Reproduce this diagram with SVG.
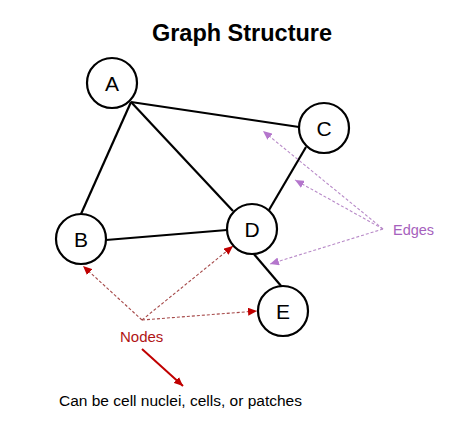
<svg xmlns="http://www.w3.org/2000/svg" width="474" height="431" viewBox="0 0 474 431">
<style>
.node circle{fill:#fff;stroke:#000;stroke-width:2.2}
.node text{font-family:"Liberation Sans",Arial,sans-serif;font-size:21px;fill:#000;text-anchor:middle}
.edge{stroke:#000;stroke-width:2.2;fill:none}
.pd{stroke:#b88ac8;stroke-width:1.1;stroke-dasharray:3 2;fill:none}
.rd{stroke:#a64a4a;stroke-width:1.1;stroke-dasharray:3 2;fill:none}
.lbl{font-family:"Liberation Sans",Arial,sans-serif}
</style>
<defs>
<marker id="ap" markerUnits="userSpaceOnUse" markerWidth="9" markerHeight="8" refX="9" refY="4" orient="auto"><path d="M0,0 L9,4 L0,8 z" fill="#b476cc"/></marker>
<marker id="ar" markerUnits="userSpaceOnUse" markerWidth="9" markerHeight="8" refX="9" refY="4" orient="auto"><path d="M0,0 L9,4 L0,8 z" fill="#c00000"/></marker>
</defs>
<rect width="474" height="431" fill="#fff"/>
<text class="lbl" x="242" y="41" font-size="23.5" font-weight="bold" text-anchor="middle">Graph Structure</text>
<g id="connectors">
<line class="edge" x1="131" y1="102" x2="81" y2="214"/>
<line class="edge" x1="131" y1="102" x2="233" y2="211"/>
<line class="edge" x1="131" y1="102" x2="299" y2="127"/>
<line class="edge" x1="306" y1="147" x2="269" y2="210"/>
<line class="edge" x1="106" y1="240" x2="227" y2="230"/>
<line class="edge" x1="253" y1="253" x2="282" y2="287"/>
<line class="pd" x1="383" y1="229" x2="263" y2="131" marker-end="url(#ap)"/>
<line class="pd" x1="383" y1="229" x2="295" y2="180" marker-end="url(#ap)"/>
<line class="pd" x1="383" y1="229" x2="270" y2="264" marker-end="url(#ap)"/>
<line class="rd" x1="142" y1="320" x2="83" y2="266" marker-end="url(#ar)"/>
<line class="rd" x1="142" y1="320" x2="233" y2="246" marker-end="url(#ar)"/>
<line class="rd" x1="142" y1="320" x2="257" y2="311" marker-end="url(#ar)"/>
<line x1="142" y1="349" x2="183" y2="386" stroke="#c00000" stroke-width="2" marker-end="url(#ar)"/>
</g>
<g id="A" class="node"><circle cx="112" cy="83" r="25"/><text x="112" y="91">A</text></g>
<g id="B" class="node"><circle cx="81" cy="239" r="25"/><text x="81" y="247">B</text></g>
<g id="C" class="node"><circle cx="324" cy="128" r="25"/><text x="324" y="136">C</text></g>
<g id="D" class="node"><circle cx="252" cy="229" r="25"/><text x="252" y="237">D</text></g>
<g id="E" class="node"><circle cx="283" cy="311" r="25"/><text x="283" y="319">E</text></g>
<text class="lbl" x="393" y="235" font-size="14.5" fill="#a661bd">Edges</text>
<text class="lbl" x="120" y="342" font-size="15" fill="#b01515">Nodes</text>
<text class="lbl" x="59" y="406" font-size="15.5" fill="#000">Can be cell nuclei, cells, or patches</text>
</svg>
